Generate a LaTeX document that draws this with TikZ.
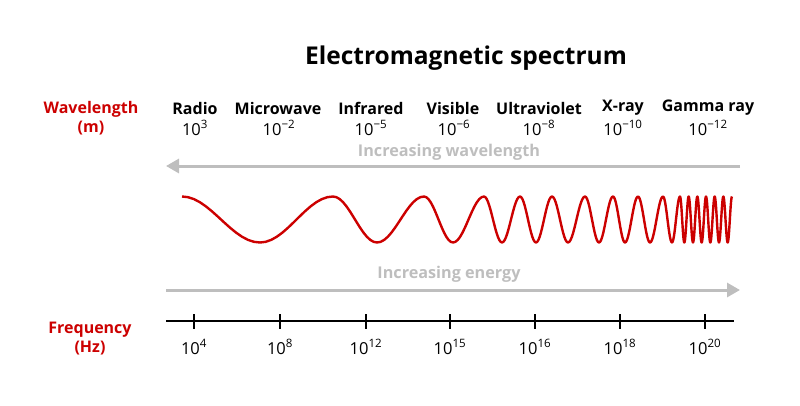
\documentclass[tikz,border=0pt]{standalone}
\usepackage{fontspec}
\setmainfont{Open Sans}
\usetikzlibrary{arrows.meta}

\definecolor{emred}{RGB}{204,0,0}
\definecolor{emgray}{RGB}{190,190,190}
\newcommand{\pw}[1]{\textsuperscript{#1}}

\begin{document}
\begin{tikzpicture}[x=1pt,y=-1pt]
        \tikzset{
            ttl/.style={font=\bfseries\fontsize{24.5}{28}\selectfont},
            side/.style={font=\bfseries\fontsize{16}{19}\selectfont, text=emred, align=center},
            band/.style={font=\bfseries\fontsize{16}{19}\selectfont},
            num/.style={font=\fontsize{16.5}{19}\selectfont},
            hint/.style={font=\bfseries\fontsize{16.2}{19}\selectfont, text=emgray},
            grayarrow/.style={draw=emgray, line width=3pt, -{Triangle[length=13pt,width=14pt]}},
            wave/.style={draw=emred, line width=2.4pt, line join=round},
            axis/.style={draw=black, line width=2.5pt},
            tick/.style={draw=black, line width=2.3pt}
            }
            \useasboundingbox (0,0) rectangle (800,405);

            \node[ttl] (title) at (466,58) {Electromagnetic spectrum};

            % wavelength row
            \node[side] (wl) at (91,118) {Wavelength\\(m)};
            \node[band] (radio) at (195,108) {Radio};
            \node[band] (micro) at (278,108) {Microwave};
            \node[band] (infra) at (371,108) {Infrared};
            \node[band] (vis) at (453,108) {Visible};
            \node[band] (uv) at (539,108) {Ultraviolet};
            \node[band] (xray) at (623,108) {X-ray};
            \node[band] (gamma) at (708,108) {Gamma ray};
            \node[num] (lradio) at (195,128) {10\pw{3}};
            \node[num] (lmicro) at (279,128) {10\pw{−2}};
            \node[num] (linfra) at (371,128) {10\pw{−5}};
            \node[num] (lvis) at (454,128) {10\pw{−6}};
            \node[num] (luv) at (539,128) {10\pw{−8}};
            \node[num] (lxray) at (623,128) {10\pw{−10}};
            \node[num] (lgamma) at (708,128) {10\pw{−12}};

            % increasing wavelength
            \node[hint] (incwl) at (449,152) {Increasing wavelength};
            \coordinate (wlr) at (740,166);
            \coordinate (wll) at (166,166);
            \draw[grayarrow] (wlr) -- (wll);

            % the wave
            \coordinate (w0) at (182,196.5);
            \draw[wave] (w0) \foreach \a/\b [count=\i] in {182/260,260/333,333/377,377/424,424/453,453/484,
                484/502,502/520,520/536,536/552,552/568,568/585,585/599,599/613,613/625,625/638,
                638/650,650/663,663/672,672/680,680/684.33,684.33/688.67,688.67/693,693/697.33,
                697.33/701.67,701.67/706,706/710.33,710.33/714.67,714.67/719,719/723.33,
                723.33/727.67,727.67/732}
                { -- plot[domain=\a:\b, samples=14] (\x, {219.5-23*cos(180*(\i-1)+180*(\x-\a)/(\b-\a))}) };

            % increasing energy
            \node[hint] (inceng) at (449,274) {Increasing energy};
            \coordinate (enl) at (166,290);
            \coordinate (enr) at (740,290);
            \draw[grayarrow] (enl) -- (enr);

            % frequency axis
            \node[side] (fq) at (90,339) {Frequency\\(Hz)};
            \coordinate (axl) at (166,321);
            \coordinate (axr) at (734,321);
            \draw[axis] (axl) -- (axr);
            \foreach \x/\e [count=\i] in {194/4,280/8,366/12,450/15,535/16,620/18,705/20}
            {
                \coordinate (t\i) at (\x,321);
                \draw[tick] ([yshift=-7.5pt]t\i) -- ([yshift=7.5pt]t\i);
                \node[num] (f\i) at (\x,347) {10\pw{\e}};
            }
        \end{tikzpicture}
\end{document}
